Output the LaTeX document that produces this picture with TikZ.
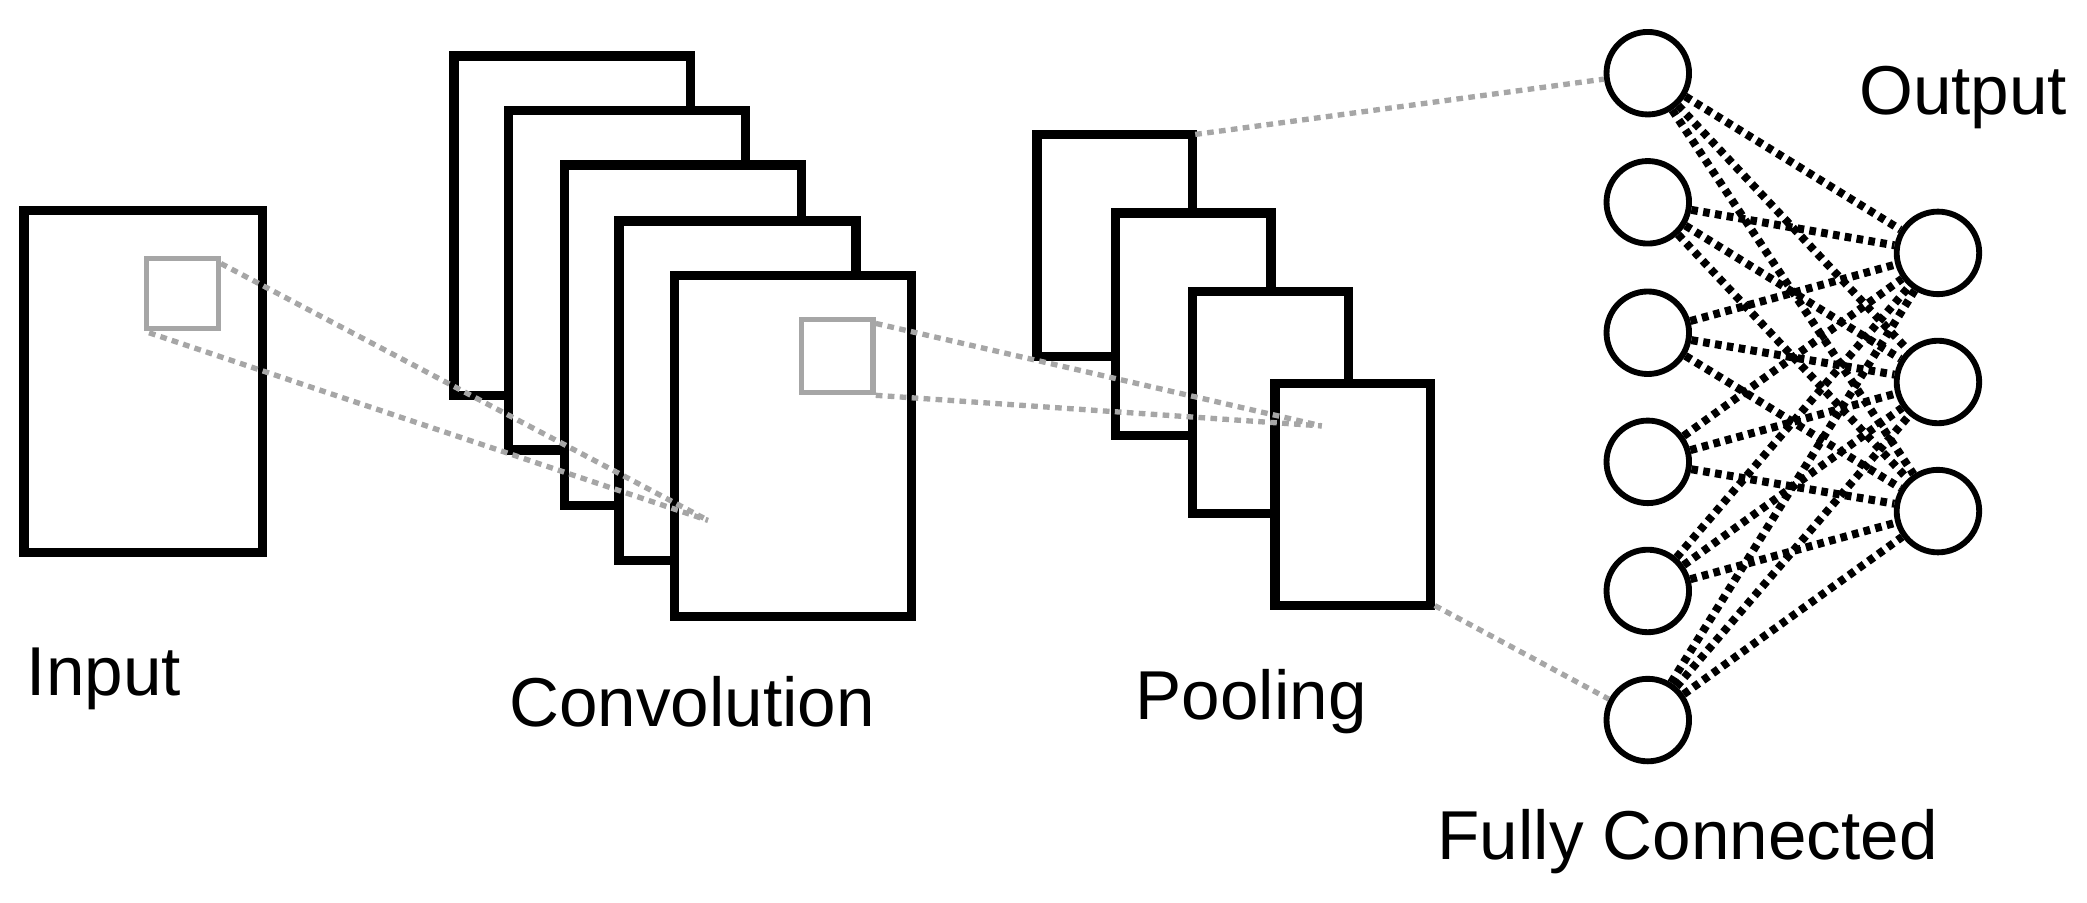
\documentclass[tikz,border=0pt]{standalone}
\usepackage{fontspec}
\setmainfont{Liberation Sans}
\begin{document}
\begin{tikzpicture}[x=0.5pt,y=-0.5pt,
  blk/.style={draw=black,line width=3.5pt,fill=white},
  gsq/.style={draw=black!35,line width=2pt},
  gline/.style={draw=black!35,line width=2pt,dash pattern=on 2.5pt off 2pt},
  neuron/.style={circle,draw=black,line width=2.2pt,minimum size=31pt,inner sep=0pt,fill=white},
  fc/.style={draw=black,line width=3pt,dash pattern=on 2.5pt off 2pt},
  lbl/.style={font=\fontsize{26}{30}\selectfont}]
\useasboundingbox (0,0) rectangle (1568,678);
% input
\draw[blk] (18,158) rectangle (197,415);
\draw[gsq] (110,194) rectangle (164,247);
% convolution
\draw[blk] (341,42) rectangle (519,297);
\draw[blk] (382,83) rectangle (560,338);
\draw[blk] (424,124) rectangle (602,380);
\draw[blk] (465,166) rectangle (643,421);
\draw[blk] (507,207) rectangle (685,463);
\draw[gsq] (602,240) rectangle (656,295);
% pooling
\draw[blk] (779,101) rectangle (896,268);
\draw[blk] (838,160) rectangle (955,327);
\draw[blk] (896,219) rectangle (1013,386);
\draw[blk] (958,288) rectangle (1075,455);
% gray connectors
\coordinate (c1) at (532,391);
\coordinate (p1) at (993,320);
\draw[gline] (166,198) -- (c1);
\draw[gline] (112,250) -- (c1);
\draw[gline] (658,243) -- (p1);
\draw[gline] (658,297) -- (p1);
% neurons
\foreach \i/\y in {1/55,2/152,3/250,4/347,5/444,6/541}
  \node[neuron] (f\i) at (1238,\y) {};
\foreach \j/\y in {1/190,2/287,3/384}
  \node[neuron] (o\j) at (1456,\y) {};
\draw[gline] (898,101) -- (f1);
\draw[gline] (1078,455) -- (f6);
\foreach \i in {1,...,6}
  \foreach \j in {1,2,3}
    \draw[fc] (f\i) -- (o\j);
% labels
\node[lbl] (li) at (78,510) {Input};
\node[lbl] (lc) at (520,527) {Convolution};
\node[lbl] (lp) at (940,527) {Pooling};
\node[lbl] (lf) at (1268,632) {Fully Connected};
\node[lbl] (lo) at (1475,73) {Output};
\end{tikzpicture}
\end{document}
